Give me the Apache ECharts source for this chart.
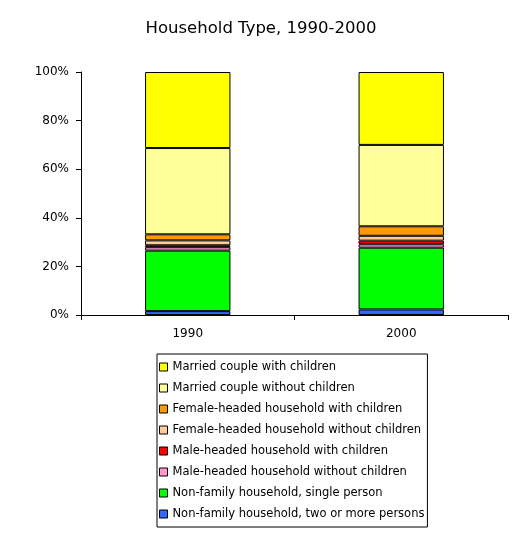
<!DOCTYPE html>
<html>
<head>
<meta charset="utf-8">
<script src="https://cdn.jsdelivr.net/npm/echarts@6/dist/echarts.min.js"></script>
<style>html,body{margin:0;padding:0;background:#fff}#c{width:522px;height:536px}</style>
</head>
<body>
<div id="c"></div>
<script>
var categories = ['1990', '2000'];
var seriesNames = [
  'Non-family household, two or more persons',
  'Non-family household, single person',
  'Male-headed household without children',
  'Male-headed household with children',
  'Female-headed household without children',
  'Female-headed household with children',
  'Married couple without children',
  'Married couple with children'
];
var nonFamilyMulti = [1.6, 2.3];
var nonFamilySingle = [24.9, 25.4];
var maleNoChildren = [1.4, 1.4];
var maleChildren = [0.8, 1.5];
var femaleNoChildren = [2.0, 2.0];
var femaleChildren = [2.5, 3.9];
var marriedNoChildren = [35.5, 33.5];
var marriedChildren = [31.3, 30.0];
var yTicks = [0, 20, 40, 60, 80, 100];

var values = [nonFamilyMulti, nonFamilySingle, maleNoChildren, maleChildren,
  femaleNoChildren, femaleChildren, marriedNoChildren, marriedChildren];
var colors = ['#3366FF', '#00FF00', '#FF99CC', '#FF0000', '#FFCC99', '#FF9900', '#FFFF99', '#FFFF00'];
var font = 'DejaVu Sans';

var chart = echarts.init(document.getElementById('c'));
chart.setOption({
  backgroundColor: '#fff',
  animation: false,
  title: {
    text: 'Household Type, 1990-2000',
    left: 'center',
    top: 15,
    textStyle: { fontFamily: font, fontSize: 16.5, fontWeight: 'normal', color: '#000' }
  },
  legend: {
    orient: 'vertical',
    left: 157,
    top: 354,
    data: seriesNames.slice().reverse(),
    icon: 'rect',
    itemWidth: 8,
    itemHeight: 8,
    itemGap: 9,
    padding: [7, 3, 7, 2],
    borderColor: '#000',
    borderWidth: 1,
    itemStyle: { borderColor: '#000', borderWidth: 1 },
    textStyle: { fontFamily: font, fontSize: 11.5, color: '#000', lineHeight: 12 }
  },
  grid: { left: 81, right: 14, top: 72, bottom: 221, containLabel: false },
  xAxis: {
    type: 'category',
    data: categories,
    axisLine: { lineStyle: { color: '#000', width: 1 } },
    axisTick: { show: true, length: 5, alignWithLabel: false, lineStyle: { color: '#000' } },
    axisLabel: { fontFamily: font, fontSize: 12, color: '#000', margin: 13 }
  },
  yAxis: {
    type: 'value',
    min: yTicks[0],
    max: yTicks[yTicks.length - 1],
    interval: yTicks[1] - yTicks[0],
    axisLine: { show: true, lineStyle: { color: '#000', width: 1 } },
    axisTick: { show: true, length: 5, lineStyle: { color: '#000' } },
    splitLine: { show: false },
    axisLabel: { fontFamily: font, fontSize: 12, color: '#000', margin: 12, formatter: '{value}%' }
  },
  series: seriesNames.map(function (n, i) {
    return {
      name: n,
      type: 'bar',
      stack: 'total',
      barWidth: '40%',
      data: values[i],
      itemStyle: { color: colors[i], borderColor: '#000', borderWidth: 1 }
    };
  })
});
</script>
</body>
</html>
